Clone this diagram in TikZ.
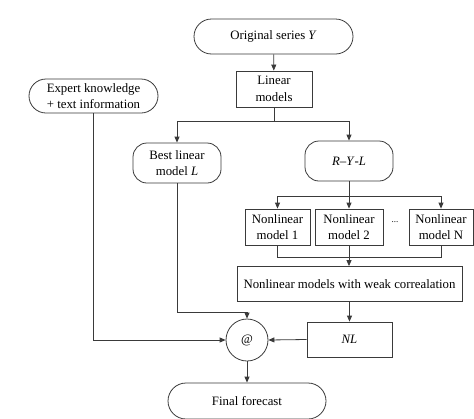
\documentclass[tikz,border=0pt]{standalone}
\usepackage{fontspec}
\setmainfont{Liberation Serif}
\usetikzlibrary{arrows.meta,shapes.misc}
\definecolor{flowline}{HTML}{3A3A3A}
\tikzset{
  base/.style={
    draw=flowline,
    line width=0.8pt,
    align=center,
    inner sep=1pt,
    font=\fontsize{12.8}{16.5}\selectfont
  },
  terminal/.style={
    base,
    rounded rectangle,
    minimum width=#1,
    minimum height=35pt
  },
  terminal/.default=160pt,
  softbox/.style={
    base,
    rounded corners=14pt,
    minimum width=88pt,
    minimum height=40pt
  },
  modelbox/.style={
    base,
    rectangle,
    minimum width=#1,
    minimum height=36pt
  },
  modelbox/.default=66pt,
  link/.style={draw=flowline,line width=0.8pt},
  arrow/.style={link,-{Triangle[length=6pt,width=5pt]}}
}

\begin{document}
\begin{tikzpicture}[x=1pt,y=-1pt]
  \useasboundingbox (0,0) rectangle (474,418);

  \node[terminal=161pt] (orig) at (273.5,36.5) {Original series \textit{Y}};
  \node[modelbox=76pt] (linear) at (274,89) {Linear\\models};
  \node[terminal=131pt, minimum height=34pt] (expert) at (93.5,96) {Expert knowledge\\+ text information};
  \node[softbox] (best) at (177,163) {Best linear\\model \textit{L}};
  \node[softbox] (ryl) at (349,161) {\textit{R}–\textit{Y}-\textit{L}};

  \node[modelbox=65pt] (nlone) at (277.5,227) {Nonlinear\\model 1};
  \node[modelbox=68pt] (nltwo) at (349,227) {Nonlinear\\model 2};
  \node[font=\fontsize{9}{10}\selectfont] (dots) at (395,222) {...};
  \node[modelbox=64pt] (nlN) at (441,227) {Nonlinear\\model N};

  \node[modelbox=225pt, minimum height=35pt] (weak) at (349.5,284) {Nonlinear models with weak correalation};
  \node[modelbox=85pt, minimum height=35pt] (nl) at (349.5,339.5) {\textit{NL}};
  \node[base, circle, minimum size=42pt] (at) at (247,340) {@};
  \node[terminal=160pt, minimum height=36pt] (final) at (247,401) {Final forecast};

  \coordinate (split) at (274,121);
  \coordinate (fan) at (349,196);
  \coordinate (bend) at (247,312);

  \draw[arrow] (orig) -- (linear);
  \draw[link] (linear.south) -- (split);
  \draw[arrow] (split) -| (best.north);
  \draw[arrow] (split) -| (ryl.north);

  \draw[arrow] (ryl.south) -- (nltwo.north);
  \draw[arrow] (fan) -| (nlone.north);
  \draw[arrow] (fan) -| (nlN.north);

  \draw[link] (nlone.south) -- ++(0,12) -| (nlN.south);
  \draw[arrow] (nltwo.south) -- (weak.north -| nltwo.south);
  \draw[arrow] (weak.south -| nl.north) -- (nl.north);

  \draw[arrow] (nl.west) -- (at.east);
  \draw[arrow] (best.south) |- (bend) -- (at.north);
  \draw[arrow] (expert.south) |- (at.west);
  \draw[arrow] (at.south) -- (final.north);
\end{tikzpicture}
\end{document}
